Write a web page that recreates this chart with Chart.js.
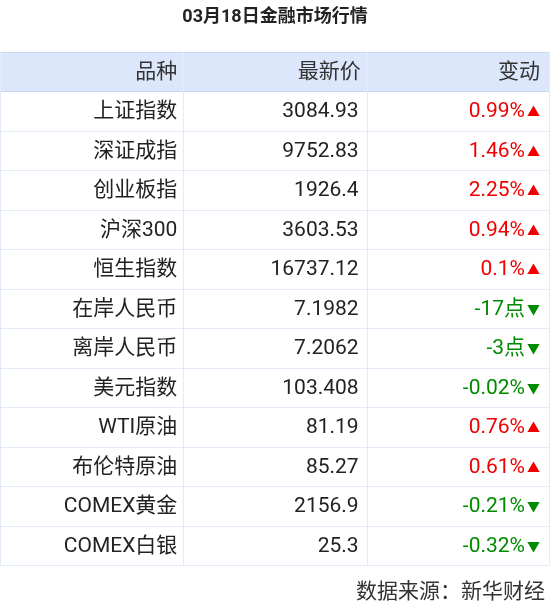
<!DOCTYPE html>
<html>
<head>
<meta charset="utf-8">
<script src="https://cdn.jsdelivr.net/npm/chart.js@4.4.0/dist/chart.umd.min.js"></script>
<style>
  html, body { margin: 0; padding: 0; background: #fff; }
  #wrap { width: 550px; height: 608px; }
</style>
</head>
<body>
<div id="wrap"><canvas id="c" width="550" height="608"></canvas></div>
<script>
const TITLE = '03月18日金融市场行情'
const SOURCE = '数据来源：新华财经'
const headers = ['品种', '最新价', '变动']
const names = ['上证指数', '深证成指', '创业板指', '沪深300', '恒生指数', '在岸人民币', '离岸人民币', '美元指数', 'WTI原油', '布伦特原油', 'COMEX黄金', 'COMEX白银']
const prices = ['3084.93', '9752.83', '1926.4', '3603.53', '16737.12', '7.1982', '7.2062', '103.408', '81.19', '85.27', '2156.9', '25.3']
const changes = ['0.99%', '1.46%', '2.25%', '0.94%', '0.1%', '-17点', '-3点', '-0.02%', '0.76%', '0.61%', '-0.21%', '-0.32%']
const ups = [true, true, true, true, true, false, false, false, true, true, false, false]

const FONT = 'Roboto, "Noto Sans CJK SC", sans-serif'
const colEdges = [0, 1, 2, 3]
const rowCount = names.length + 1

const tablePlugin = {
  id: 'table',
  beforeDatasetsDraw(chart) {
    const { ctx, scales: { x, y } } = chart
    const x0 = x.getPixelForValue(0), x3 = x.getPixelForValue(3)
    ctx.fillStyle = '#dde7fb'
    ctx.fillRect(x0, y.getPixelForValue(0), x3 - x0, y.getPixelForValue(1) - y.getPixelForValue(0))
    ctx.lineWidth = 1
    for (let r = 0; r <= rowCount; r++) {
      const py = Math.round(y.getPixelForValue(r)) + 0.5
      ctx.strokeStyle = r <= 1 ? '#c9d8f4' : '#e3eaf8'
      ctx.beginPath(); ctx.moveTo(x0, py); ctx.lineTo(x3, py); ctx.stroke()
    }
    for (const c of colEdges) {
      const px = Math.round(x.getPixelForValue(c)) + (c === 3 ? -0.5 : 0.5)
      ctx.strokeStyle = '#e3eaf8'
      ctx.beginPath(); ctx.moveTo(px, y.getPixelForValue(0)); ctx.lineTo(px, y.getPixelForValue(rowCount)); ctx.stroke()
    }
  },
  afterDatasetsDraw(chart) {
    const { ctx, scales: { x, y } } = chart
    ctx.textBaseline = 'middle'
    ctx.fillStyle = '#222'
    ctx.textAlign = 'center'
    ctx.font = `bold 18px ${FONT}`
    ctx.fillText(TITLE, chart.width / 2, 17)
    ctx.font = `21px ${FONT}`
    const cellRight = c => x.getPixelForValue(c + 1) - 6
    const mid = r => (y.getPixelForValue(r) + y.getPixelForValue(r + 1)) / 2
    ctx.textAlign = 'right'
    headers.forEach((h, c) => {
      ctx.fillStyle = '#333'
      ctx.fillText(h, cellRight(c) - (c === 2 ? 4 : 0), mid(0) + 1)
    })
    names.forEach((n, i) => {
      const r = i + 1, cy = mid(r) + 1
      ctx.font = `21px ${FONT}`
      ctx.fillStyle = '#222'
      ctx.fillText(n, cellRight(0), cy)
      ctx.fillText(prices[i], cellRight(1) - 2, cy)
      ctx.fillStyle = ups[i] ? '#f00000' : '#008a00'
      ctx.fillText(changes[i], cellRight(2) - 19, cy)
      ctx.font = `13px ${FONT}`
      ctx.fillText(ups[i] ? '▲' : '▼', cellRight(2) - 4, cy + 1)
    })
    ctx.font = `21px ${FONT}`
    ctx.fillStyle = '#333'
    ctx.fillText(SOURCE, 545, 593)
  }
}

new Chart(document.getElementById('c'), {
  type: 'scatter',
  data: {
    datasets: [{
      data: names.map((n, i) => ({ x: 2.5, y: i + 1.5 })),
      pointRadius: 0,
      showLine: false
    }]
  },
  options: {
    responsive: false,
    animation: false,
    layout: { padding: { top: 52, bottom: 43, left: 0, right: 0 } },
    plugins: { legend: { display: false }, tooltip: { enabled: false } },
    scales: {
      x: { type: 'linear', min: 0, max: 3, display: false },
      y: { type: 'linear', min: 0, max: rowCount, reverse: true, display: false }
    }
  },
  plugins: [tablePlugin]
})
</script>
</body>
</html>
